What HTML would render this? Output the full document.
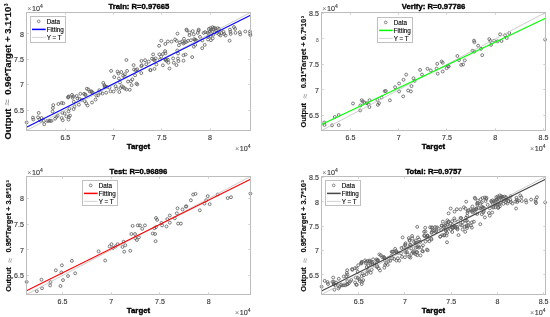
<!DOCTYPE html><html><head><meta charset="utf-8"><style>html,body{margin:0;padding:0;background:#fff;width:550px;height:317px;overflow:hidden}svg{display:block}text{font-family:"Liberation Sans",Arial,sans-serif}</style></head><body>
<div id="w"><svg width="550" height="317" viewBox="0 0 550 317">
<g>
<rect width="550" height="317" fill="#fff"/>
<g fill="none" stroke="#5a5a5a" stroke-width="0.8"><circle cx="26.6" cy="122.4" r="1.45"/><circle cx="38.7" cy="112.9" r="1.45"/><circle cx="32.9" cy="117.6" r="1.45"/><circle cx="33.3" cy="119.5" r="1.45"/><circle cx="38.0" cy="117.3" r="1.45"/><circle cx="39.5" cy="119.5" r="1.45"/><circle cx="40.9" cy="120.9" r="1.45"/><circle cx="41.6" cy="118.0" r="1.45"/><circle cx="43.8" cy="120.9" r="1.45"/><circle cx="44.2" cy="124.2" r="1.45"/><circle cx="47.1" cy="120.9" r="1.45"/><circle cx="48.5" cy="120.9" r="1.45"/><circle cx="50.0" cy="120.9" r="1.45"/><circle cx="51.5" cy="120.9" r="1.45"/><circle cx="52.5" cy="111.5" r="1.45"/><circle cx="55.1" cy="118.7" r="1.45"/><circle cx="56.5" cy="116.9" r="1.45"/><circle cx="57.6" cy="115.5" r="1.45"/><circle cx="61.6" cy="118.0" r="1.45"/><circle cx="62.7" cy="120.2" r="1.45"/><circle cx="62.4" cy="112.9" r="1.45"/><circle cx="64.5" cy="113.3" r="1.45"/><circle cx="53.3" cy="105.1" r="1.45"/><circle cx="52.9" cy="108.0" r="1.45"/><circle cx="58.4" cy="104.0" r="1.45"/><circle cx="66.4" cy="116.4" r="1.45"/><circle cx="68.9" cy="117.1" r="1.45"/><circle cx="70.0" cy="115.6" r="1.45"/><circle cx="68.5" cy="119.6" r="1.45"/><circle cx="68.5" cy="111.3" r="1.45"/><circle cx="69.3" cy="108.7" r="1.45"/><circle cx="73.6" cy="109.1" r="1.45"/><circle cx="111.1" cy="70.9" r="1.45"/><circle cx="117.6" cy="71.6" r="1.45"/><circle cx="118.4" cy="73.5" r="1.45"/><circle cx="121.3" cy="72.0" r="1.45"/><circle cx="123.1" cy="75.6" r="1.45"/><circle cx="124.9" cy="74.2" r="1.45"/><circle cx="127.1" cy="70.9" r="1.45"/><circle cx="133.6" cy="65.1" r="1.45"/><circle cx="134.0" cy="69.5" r="1.45"/><circle cx="135.8" cy="70.2" r="1.45"/><circle cx="135.1" cy="75.3" r="1.45"/><circle cx="136.5" cy="83.6" r="1.45"/><circle cx="137.3" cy="84.4" r="1.45"/><circle cx="141.3" cy="73.1" r="1.45"/><circle cx="150.4" cy="70.2" r="1.45"/><circle cx="159.1" cy="45.8" r="1.45"/><circle cx="165.3" cy="44.0" r="1.45"/><circle cx="176.5" cy="65.1" r="1.45"/><circle cx="178.0" cy="58.5" r="1.45"/><circle cx="178.4" cy="61.1" r="1.45"/><circle cx="178.0" cy="53.5" r="1.45"/><circle cx="177.3" cy="50.5" r="1.45"/><circle cx="183.5" cy="60.7" r="1.45"/><circle cx="183.5" cy="55.3" r="1.45"/><circle cx="185.6" cy="54.5" r="1.45"/><circle cx="192.2" cy="57.1" r="1.45"/><circle cx="171.5" cy="41.6" r="1.45"/><circle cx="175.1" cy="39.5" r="1.45"/><circle cx="186.4" cy="29.6" r="1.45"/><circle cx="198.7" cy="29.6" r="1.45"/><circle cx="229.6" cy="40.7" r="1.45"/><circle cx="250.0" cy="31.5" r="1.45"/><circle cx="250.0" cy="33.6" r="1.45"/><circle cx="250.4" cy="35.1" r="1.45"/><circle cx="126.4" cy="60.0" r="1.45"/><circle cx="161.3" cy="40.7" r="1.45"/><circle cx="167.8" cy="41.5" r="1.45"/><circle cx="103.3" cy="82.9" r="1.45"/><circle cx="104.4" cy="85.1" r="1.45"/><circle cx="105.1" cy="86.9" r="1.45"/><circle cx="106.9" cy="86.9" r="1.45"/><circle cx="109.5" cy="87.6" r="1.45"/><circle cx="110.5" cy="91.3" r="1.45"/><circle cx="113.5" cy="91.6" r="1.45"/><circle cx="115.6" cy="86.2" r="1.45"/><circle cx="116.4" cy="88.7" r="1.45"/><circle cx="114.2" cy="77.1" r="1.45"/><circle cx="118.9" cy="78.5" r="1.45"/><circle cx="120.0" cy="82.5" r="1.45"/><circle cx="120.4" cy="88.0" r="1.45"/><circle cx="119.3" cy="92.0" r="1.45"/><circle cx="121.8" cy="86.2" r="1.45"/><circle cx="123.3" cy="87.3" r="1.45"/><circle cx="124.7" cy="88.4" r="1.45"/><circle cx="126.5" cy="89.5" r="1.45"/><circle cx="129.8" cy="89.8" r="1.45"/><circle cx="128.0" cy="81.5" r="1.45"/><circle cx="130.9" cy="81.1" r="1.45"/><circle cx="131.6" cy="85.1" r="1.45"/><circle cx="132.4" cy="79.3" r="1.45"/><circle cx="124.7" cy="76.7" r="1.45"/><circle cx="100.4" cy="92.7" r="1.45"/><circle cx="102.5" cy="93.5" r="1.45"/><circle cx="106.2" cy="92.7" r="1.45"/><circle cx="104.6" cy="86.2" r="1.45"/><circle cx="141.5" cy="60.9" r="1.45"/><circle cx="141.8" cy="65.3" r="1.45"/><circle cx="145.1" cy="60.2" r="1.45"/><circle cx="146.2" cy="64.2" r="1.45"/><circle cx="148.7" cy="61.6" r="1.45"/><circle cx="152.0" cy="58.7" r="1.45"/><circle cx="153.1" cy="54.4" r="1.45"/><circle cx="153.8" cy="59.5" r="1.45"/><circle cx="154.4" cy="60.3" r="1.45"/><circle cx="155.6" cy="58.4" r="1.45"/><circle cx="156.4" cy="64.5" r="1.45"/><circle cx="159.3" cy="54.4" r="1.45"/><circle cx="161.1" cy="56.5" r="1.45"/><circle cx="162.9" cy="54.0" r="1.45"/><circle cx="165.1" cy="51.1" r="1.45"/><circle cx="165.5" cy="53.3" r="1.45"/><circle cx="165.1" cy="59.5" r="1.45"/><circle cx="166.5" cy="60.9" r="1.45"/><circle cx="165.8" cy="60.0" r="1.45"/><circle cx="168.0" cy="59.8" r="1.45"/><circle cx="168.4" cy="62.7" r="1.45"/><circle cx="162.9" cy="65.3" r="1.45"/><circle cx="173.1" cy="58.4" r="1.45"/><circle cx="173.8" cy="62.7" r="1.45"/><circle cx="154.5" cy="68.9" r="1.45"/><circle cx="169.5" cy="68.5" r="1.45"/><circle cx="137.1" cy="69.3" r="1.45"/><circle cx="160.0" cy="59.5" r="1.45"/><circle cx="141.3" cy="66.2" r="1.45"/><circle cx="150.4" cy="70.0" r="1.45"/><circle cx="177.5" cy="33.6" r="1.45"/><circle cx="176.7" cy="40.9" r="1.45"/><circle cx="178.9" cy="45.3" r="1.45"/><circle cx="182.2" cy="41.6" r="1.45"/><circle cx="183.3" cy="43.5" r="1.45"/><circle cx="184.4" cy="42.7" r="1.45"/><circle cx="184.0" cy="38.7" r="1.45"/><circle cx="186.9" cy="30.4" r="1.45"/><circle cx="189.5" cy="32.5" r="1.45"/><circle cx="189.5" cy="35.1" r="1.45"/><circle cx="188.0" cy="40.9" r="1.45"/><circle cx="190.9" cy="40.2" r="1.45"/><circle cx="193.8" cy="34.4" r="1.45"/><circle cx="194.2" cy="39.1" r="1.45"/><circle cx="195.6" cy="39.8" r="1.45"/><circle cx="196.7" cy="40.9" r="1.45"/><circle cx="195.0" cy="40.2" r="1.45"/><circle cx="195.3" cy="44.9" r="1.45"/><circle cx="197.8" cy="32.9" r="1.45"/><circle cx="198.5" cy="30.7" r="1.45"/><circle cx="200.0" cy="36.9" r="1.45"/><circle cx="202.2" cy="40.5" r="1.45"/><circle cx="203.6" cy="32.9" r="1.45"/><circle cx="205.1" cy="32.2" r="1.45"/><circle cx="204.7" cy="44.9" r="1.45"/><circle cx="202.2" cy="48.2" r="1.45"/><circle cx="208.0" cy="39.5" r="1.45"/><circle cx="210.9" cy="40.2" r="1.45"/><circle cx="212.7" cy="38.4" r="1.45"/><circle cx="193.8" cy="46.7" r="1.45"/><circle cx="192.7" cy="31.1" r="1.45"/><circle cx="180.0" cy="42.5" r="1.45"/><circle cx="186.0" cy="42.0" r="1.45"/><circle cx="208.9" cy="28.9" r="1.45"/><circle cx="210.4" cy="28.2" r="1.45"/><circle cx="212.5" cy="27.1" r="1.45"/><circle cx="214.0" cy="27.8" r="1.45"/><circle cx="215.5" cy="28.5" r="1.45"/><circle cx="217.6" cy="28.2" r="1.45"/><circle cx="219.1" cy="28.9" r="1.45"/><circle cx="207.5" cy="32.5" r="1.45"/><circle cx="208.3" cy="33.2" r="1.45"/><circle cx="210.0" cy="31.8" r="1.45"/><circle cx="212.2" cy="31.5" r="1.45"/><circle cx="214.7" cy="32.2" r="1.45"/><circle cx="216.9" cy="32.9" r="1.45"/><circle cx="219.1" cy="34.4" r="1.45"/><circle cx="223.5" cy="31.8" r="1.45"/><circle cx="224.2" cy="34.0" r="1.45"/><circle cx="225.6" cy="35.5" r="1.45"/><circle cx="230.0" cy="29.6" r="1.45"/><circle cx="230.4" cy="31.8" r="1.45"/><circle cx="230.7" cy="34.0" r="1.45"/><circle cx="234.0" cy="27.1" r="1.45"/><circle cx="235.1" cy="28.9" r="1.45"/><circle cx="235.5" cy="32.9" r="1.45"/><circle cx="239.8" cy="32.2" r="1.45"/><circle cx="240.2" cy="34.4" r="1.45"/><circle cx="245.3" cy="31.5" r="1.45"/><circle cx="213.3" cy="34.7" r="1.45"/><circle cx="210.4" cy="36.2" r="1.45"/><circle cx="208.2" cy="36.5" r="1.45"/><circle cx="220.5" cy="35.5" r="1.45"/><circle cx="211.0" cy="30.0" r="1.45"/><circle cx="216.0" cy="30.5" r="1.45"/><circle cx="218.5" cy="31.0" r="1.45"/><circle cx="221.5" cy="33.0" r="1.45"/><circle cx="213.5" cy="29.5" r="1.45"/><circle cx="61.5" cy="102.9" r="1.45"/><circle cx="63.3" cy="103.3" r="1.45"/><circle cx="68.0" cy="97.5" r="1.45"/><circle cx="68.4" cy="97.0" r="1.45"/><circle cx="68.7" cy="96.4" r="1.45"/><circle cx="72.0" cy="94.9" r="1.45"/><circle cx="73.1" cy="96.4" r="1.45"/><circle cx="76.7" cy="96.0" r="1.45"/><circle cx="72.7" cy="97.8" r="1.45"/><circle cx="73.8" cy="101.8" r="1.45"/><circle cx="77.5" cy="98.5" r="1.45"/><circle cx="80.4" cy="93.8" r="1.45"/><circle cx="79.6" cy="98.9" r="1.45"/><circle cx="81.8" cy="100.0" r="1.45"/><circle cx="84.0" cy="93.8" r="1.45"/><circle cx="85.1" cy="94.5" r="1.45"/><circle cx="85.6" cy="95.0" r="1.45"/><circle cx="84.7" cy="101.1" r="1.45"/><circle cx="86.2" cy="103.3" r="1.45"/><circle cx="87.6" cy="105.5" r="1.45"/><circle cx="86.9" cy="88.7" r="1.45"/><circle cx="89.8" cy="91.6" r="1.45"/><circle cx="91.3" cy="91.3" r="1.45"/><circle cx="91.8" cy="91.9" r="1.45"/><circle cx="92.7" cy="92.7" r="1.45"/><circle cx="92.0" cy="102.5" r="1.45"/><circle cx="95.6" cy="99.6" r="1.45"/><circle cx="96.4" cy="95.6" r="1.45"/><circle cx="98.2" cy="95.3" r="1.45"/><circle cx="99.3" cy="90.2" r="1.45"/><circle cx="88.4" cy="89.5" r="1.45"/><circle cx="78.9" cy="104.7" r="1.45"/><circle cx="74.5" cy="106.5" r="1.45"/></g>
<line x1="26.5" y1="130.5" x2="250.5" y2="12.5" stroke="#c0c0c0" stroke-width="0.8"/>
<line x1="26.5" y1="127.2" x2="250.5" y2="15.2" stroke="#0000ff" stroke-width="1.1"/>
<rect x="26.5" y="12.5" width="224.0" height="118.0" fill="none" stroke="#bdbdbd" stroke-width="1"/>
<path d="M65.5 130.5v-2.2M65.5 12.5v2.2M113.5 130.5v-2.2M113.5 12.5v2.2M161.5 130.5v-2.2M161.5 12.5v2.2M210.5 130.5v-2.2M210.5 12.5v2.2M26.5 110.5h2.2M250.5 110.5h-2.2M26.5 84.5h2.2M250.5 84.5h-2.2M26.5 59.5h2.2M250.5 59.5h-2.2M26.5 33.5h2.2M250.5 33.5h-2.2" stroke="#d0d0d0" stroke-width="1" fill="none"/>
<g font-size="7.10" fill="#333" stroke="#333" stroke-width="0.12"><text transform="translate(65.35 140.00) scale(1 1.100)" text-anchor="middle">6.5</text><text transform="translate(113.58 140.00) scale(1 1.100)" text-anchor="middle">7</text><text transform="translate(161.82 140.00) scale(1 1.100)" text-anchor="middle">7.5</text><text transform="translate(210.05 140.00) scale(1 1.100)" text-anchor="middle">8</text><text transform="translate(23.90 112.74) scale(1 1.100)" text-anchor="end">6.5</text><text transform="translate(23.90 87.33) scale(1 1.100)" text-anchor="end">7</text><text transform="translate(23.90 61.92) scale(1 1.100)" text-anchor="end">7.5</text><text transform="translate(23.90 36.51) scale(1 1.100)" text-anchor="end">8</text></g>
<text x="27.3" y="10.7" font-size="7.2" fill="#333" stroke="#333" stroke-width="0.12"><tspan fill="#777" stroke="none">&#215;</tspan><tspan dx="0.5">10</tspan><tspan font-size="5" dy="-3.0">4</tspan></text>
<text x="250.5" y="151.1" font-size="7.2" fill="#333" stroke="#333" stroke-width="0.12" text-anchor="end"><tspan fill="#777" stroke="none">&#215;</tspan><tspan dx="0.5">10</tspan><tspan font-size="5" dy="-3.2">4</tspan></text>
<text transform="translate(138.9 8.5) scale(1 1.04)" font-size="7.7" font-weight="bold" fill="#000" stroke="#000" stroke-width="0.35" text-anchor="middle">Train: R=0.97665</text>
<text x="138.5" y="149.3" font-size="7.85" font-weight="bold" fill="#000" stroke="#000" stroke-width="0.35" text-anchor="middle">Target</text>
<g font-weight="bold" fill="#111" font-size="9.50" stroke="#000" stroke-width="0.15">
<text transform="translate(11.1 139.6) rotate(-90)">Output</text>
<text transform="translate(10.6 102.3) rotate(-90)" text-anchor="middle" font-weight="normal" stroke="none" fill="#8a8a8a" font-size="11.40">&#8776;</text>
<text transform="translate(11.1 94.8) rotate(-90)">0.96<tspan font-size="8.55">*</tspan><tspan>Target</tspan> + 3.1<tspan font-size="8.55">*</tspan><tspan>10</tspan><tspan font-size="4.46" dy="-3.42" dx="0.7">3</tspan></text>
</g>
<rect x="30.5" y="16.5" width="35.0" height="26.0" fill="#fff" stroke="#c0c0c0" stroke-width="1"/>
<circle cx="38.7" cy="21.4" r="1.35" fill="none" stroke="#555" stroke-width="0.7"/>
<line x1="32.0" y1="29.4" x2="45.7" y2="29.4" stroke="#0000ff" stroke-width="1.5"/>
<line x1="32.0" y1="37.4" x2="45.7" y2="37.4" stroke="#c8c8c8" stroke-width="0.8"/>
<g font-size="6.3" fill="#000" stroke="#000" stroke-width="0.12">
<text x="46.7" y="23.7">Data</text>
<text x="46.7" y="31.7">Fitting</text>
<text x="46.7" y="39.7">Y = T</text>
</g>
<g fill="none" stroke="#5a5a5a" stroke-width="0.8"><circle cx="324.3" cy="122.5" r="1.45"/><circle cx="324.5" cy="125.0" r="1.45"/><circle cx="332.0" cy="125.3" r="1.45"/><circle cx="338.7" cy="125.1" r="1.45"/><circle cx="334.8" cy="117.0" r="1.45"/><circle cx="338.7" cy="115.0" r="1.45"/><circle cx="353.0" cy="103.5" r="1.45"/><circle cx="360.2" cy="110.4" r="1.45"/><circle cx="360.4" cy="105.4" r="1.45"/><circle cx="361.7" cy="100.2" r="1.45"/><circle cx="362.8" cy="101.5" r="1.45"/><circle cx="364.3" cy="102.4" r="1.45"/><circle cx="366.9" cy="103.2" r="1.45"/><circle cx="369.4" cy="107.0" r="1.45"/><circle cx="369.6" cy="100.2" r="1.45"/><circle cx="368.7" cy="104.3" r="1.45"/><circle cx="377.9" cy="104.8" r="1.45"/><circle cx="379.0" cy="103.2" r="1.45"/><circle cx="377.4" cy="99.9" r="1.45"/><circle cx="381.6" cy="97.5" r="1.45"/><circle cx="384.7" cy="91.2" r="1.45"/><circle cx="385.8" cy="91.0" r="1.45"/><circle cx="389.9" cy="100.3" r="1.45"/><circle cx="395.1" cy="87.2" r="1.45"/><circle cx="399.1" cy="91.4" r="1.45"/><circle cx="399.1" cy="83.5" r="1.45"/><circle cx="403.2" cy="96.4" r="1.45"/><circle cx="403.5" cy="79.8" r="1.45"/><circle cx="406.2" cy="74.6" r="1.45"/><circle cx="408.1" cy="90.5" r="1.45"/><circle cx="410.9" cy="91.4" r="1.45"/><circle cx="411.5" cy="86.1" r="1.45"/><circle cx="413.5" cy="78.2" r="1.45"/><circle cx="414.6" cy="80.9" r="1.45"/><circle cx="420.1" cy="69.9" r="1.45"/><circle cx="422.0" cy="74.6" r="1.45"/><circle cx="427.5" cy="68.8" r="1.45"/><circle cx="430.8" cy="70.4" r="1.45"/><circle cx="436.6" cy="68.5" r="1.45"/><circle cx="437.2" cy="63.8" r="1.45"/><circle cx="437.7" cy="73.7" r="1.45"/><circle cx="441.6" cy="61.5" r="1.45"/><circle cx="442.7" cy="62.7" r="1.45"/><circle cx="442.7" cy="71.5" r="1.45"/><circle cx="446.6" cy="68.2" r="1.45"/><circle cx="447.9" cy="66.0" r="1.45"/><circle cx="448.8" cy="66.5" r="1.45"/><circle cx="457.4" cy="56.0" r="1.45"/><circle cx="459.0" cy="60.1" r="1.45"/><circle cx="461.2" cy="64.9" r="1.45"/><circle cx="463.1" cy="64.5" r="1.45"/><circle cx="464.8" cy="60.4" r="1.45"/><circle cx="472.5" cy="50.8" r="1.45"/><circle cx="474.2" cy="51.6" r="1.45"/><circle cx="474.0" cy="40.6" r="1.45"/><circle cx="474.4" cy="42.2" r="1.45"/><circle cx="478.1" cy="45.7" r="1.45"/><circle cx="481.0" cy="48.8" r="1.45"/><circle cx="482.2" cy="55.2" r="1.45"/><circle cx="489.3" cy="39.1" r="1.45"/><circle cx="490.4" cy="41.0" r="1.45"/><circle cx="491.0" cy="44.9" r="1.45"/><circle cx="494.0" cy="40.7" r="1.45"/><circle cx="497.6" cy="41.3" r="1.45"/><circle cx="501.5" cy="41.0" r="1.45"/><circle cx="500.1" cy="34.3" r="1.45"/><circle cx="505.0" cy="35.2" r="1.45"/><circle cx="506.8" cy="38.0" r="1.45"/><circle cx="509.2" cy="33.0" r="1.45"/><circle cx="545.1" cy="39.6" r="1.45"/></g>
<line x1="321.5" y1="130.5" x2="545.5" y2="12.5" stroke="#c0c0c0" stroke-width="0.8"/>
<line x1="321.5" y1="124.6" x2="545.5" y2="18.3" stroke="#00ff00" stroke-width="1.1"/>
<rect x="321.5" y="12.5" width="224.0" height="118.0" fill="none" stroke="#bdbdbd" stroke-width="1"/>
<path d="M350.5 130.5v-2.2M350.5 12.5v2.2M398.5 130.5v-2.2M398.5 12.5v2.2M446.5 130.5v-2.2M446.5 12.5v2.2M495.5 130.5v-2.2M495.5 12.5v2.2M543.5 130.5v-2.2M543.5 12.5v2.2M321.5 115.5h2.2M545.5 115.5h-2.2M321.5 89.5h2.2M545.5 89.5h-2.2M321.5 64.5h2.2M545.5 64.5h-2.2M321.5 38.5h2.2M545.5 38.5h-2.2M321.5 13.5h2.2M545.5 13.5h-2.2" stroke="#d0d0d0" stroke-width="1" fill="none"/>
<g font-size="7.10" fill="#333" stroke="#333" stroke-width="0.12"><text transform="translate(350.40 140.00) scale(1 1.100)" text-anchor="middle">6.5</text><text transform="translate(398.67 140.00) scale(1 1.100)" text-anchor="middle">7</text><text transform="translate(446.95 140.00) scale(1 1.100)" text-anchor="middle">7.5</text><text transform="translate(495.23 140.00) scale(1 1.100)" text-anchor="middle">8</text><text transform="translate(543.50 140.00) scale(1 1.100)" text-anchor="middle">8.5</text><text transform="translate(318.90 117.98) scale(1 1.100)" text-anchor="end">6.5</text><text transform="translate(318.90 92.55) scale(1 1.100)" text-anchor="end">7</text><text transform="translate(318.90 67.11) scale(1 1.100)" text-anchor="end">7.5</text><text transform="translate(318.90 41.68) scale(1 1.100)" text-anchor="end" fill="#b0b0b0" font-size="5.6">8</text><text transform="translate(318.90 16.25) scale(1 1.100)" text-anchor="end">8.5</text></g>
<text x="322.3" y="10.7" font-size="7.2" fill="#333" stroke="#333" stroke-width="0.12"><tspan fill="#777" stroke="none">&#215;</tspan><tspan dx="0.5">10</tspan><tspan font-size="5" dy="-3.0">4</tspan></text>
<text x="545.5" y="151.1" font-size="7.2" fill="#333" stroke="#333" stroke-width="0.12" text-anchor="end"><tspan fill="#777" stroke="none">&#215;</tspan><tspan dx="0.5">10</tspan><tspan font-size="5" dy="-3.2">4</tspan></text>
<text transform="translate(433.5 8.5) scale(1 1.04)" font-size="7.7" font-weight="bold" fill="#000" stroke="#000" stroke-width="0.35" text-anchor="middle">Verify: R=0.97786</text>
<text x="433.5" y="149.3" font-size="7.85" font-weight="bold" fill="#000" stroke="#000" stroke-width="0.35" text-anchor="middle">Target</text>
<g font-weight="bold" fill="#111" font-size="7.50" stroke="#000" stroke-width="0.15">
<text transform="translate(306.4 127.5) rotate(-90)">Output</text>
<text transform="translate(307.5 96.0) rotate(-90)" text-anchor="middle" font-weight="normal" stroke="none" fill="#8a8a8a" font-size="9.00">&#8776;</text>
<text transform="translate(306.4 88.3) rotate(-90)">0.91<tspan font-size="6.75">*</tspan><tspan>Target</tspan> + 6.7<tspan font-size="6.75">*</tspan><tspan>10</tspan><tspan font-size="3.52" dy="-2.70" dx="0.7">3</tspan></text>
</g>
<rect x="377.5" y="17.5" width="35.0" height="25.0" fill="#fff" stroke="#c0c0c0" stroke-width="1"/>
<circle cx="385.7" cy="22.4" r="1.35" fill="none" stroke="#555" stroke-width="0.7"/>
<line x1="379.0" y1="30.4" x2="392.7" y2="30.4" stroke="#00ff00" stroke-width="1.5"/>
<line x1="379.0" y1="38.4" x2="392.7" y2="38.4" stroke="#c8c8c8" stroke-width="0.8"/>
<g font-size="6.3" fill="#000" stroke="#000" stroke-width="0.12">
<text x="393.7" y="24.7">Data</text>
<text x="393.7" y="32.7">Fitting</text>
<text x="393.7" y="40.7">Y = T</text>
</g>
<g fill="none" stroke="#5a5a5a" stroke-width="0.8"><circle cx="26.6" cy="281.9" r="1.45"/><circle cx="36.8" cy="291.2" r="1.45"/><circle cx="42.0" cy="288.2" r="1.45"/><circle cx="41.5" cy="279.7" r="1.45"/><circle cx="50.1" cy="285.4" r="1.45"/><circle cx="50.5" cy="282.1" r="1.45"/><circle cx="55.8" cy="270.3" r="1.45"/><circle cx="60.5" cy="286.0" r="1.45"/><circle cx="61.4" cy="272.4" r="1.45"/><circle cx="61.9" cy="265.3" r="1.45"/><circle cx="63.0" cy="280.1" r="1.45"/><circle cx="68.0" cy="276.0" r="1.45"/><circle cx="71.9" cy="260.9" r="1.45"/><circle cx="75.2" cy="273.3" r="1.45"/><circle cx="98.6" cy="251.3" r="1.45"/><circle cx="105.2" cy="260.5" r="1.45"/><circle cx="109.6" cy="246.4" r="1.45"/><circle cx="111.5" cy="244.2" r="1.45"/><circle cx="113.1" cy="248.0" r="1.45"/><circle cx="115.6" cy="246.4" r="1.45"/><circle cx="117.6" cy="244.2" r="1.45"/><circle cx="122.5" cy="246.9" r="1.45"/><circle cx="123.6" cy="241.7" r="1.45"/><circle cx="125.3" cy="245.3" r="1.45"/><circle cx="124.2" cy="251.7" r="1.45"/><circle cx="130.3" cy="250.8" r="1.45"/><circle cx="131.4" cy="234.0" r="1.45"/><circle cx="135.0" cy="234.0" r="1.45"/><circle cx="135.2" cy="238.1" r="1.45"/><circle cx="136.9" cy="240.0" r="1.45"/><circle cx="138.9" cy="237.3" r="1.45"/><circle cx="137.8" cy="225.4" r="1.45"/><circle cx="140.0" cy="225.4" r="1.45"/><circle cx="142.2" cy="228.8" r="1.45"/><circle cx="144.9" cy="225.4" r="1.45"/><circle cx="152.7" cy="233.5" r="1.45"/><circle cx="155.1" cy="234.0" r="1.45"/><circle cx="154.3" cy="228.2" r="1.45"/><circle cx="156.0" cy="227.1" r="1.45"/><circle cx="156.0" cy="218.0" r="1.45"/><circle cx="157.1" cy="219.9" r="1.45"/><circle cx="161.5" cy="222.9" r="1.45"/><circle cx="162.1" cy="225.4" r="1.45"/><circle cx="166.5" cy="226.5" r="1.45"/><circle cx="167.3" cy="219.1" r="1.45"/><circle cx="169.8" cy="222.7" r="1.45"/><circle cx="169.8" cy="215.5" r="1.45"/><circle cx="174.8" cy="218.3" r="1.45"/><circle cx="176.8" cy="213.3" r="1.45"/><circle cx="177.5" cy="208.3" r="1.45"/><circle cx="178.1" cy="223.6" r="1.45"/><circle cx="180.9" cy="223.6" r="1.45"/><circle cx="182.5" cy="209.4" r="1.45"/><circle cx="186.4" cy="206.3" r="1.45"/><circle cx="185.8" cy="206.6" r="1.45"/><circle cx="190.9" cy="200.3" r="1.45"/><circle cx="193.1" cy="194.5" r="1.45"/><circle cx="195.5" cy="193.9" r="1.45"/><circle cx="199.8" cy="210.3" r="1.45"/><circle cx="204.4" cy="203.6" r="1.45"/><circle cx="206.1" cy="200.3" r="1.45"/><circle cx="207.7" cy="196.1" r="1.45"/><circle cx="209.7" cy="204.2" r="1.45"/><circle cx="217.7" cy="194.5" r="1.45"/><circle cx="227.7" cy="198.1" r="1.45"/><circle cx="231.0" cy="197.2" r="1.45"/><circle cx="250.4" cy="193.6" r="1.45"/><circle cx="132.6" cy="225.9" r="1.45"/><circle cx="155.6" cy="241.2" r="1.45"/></g>
<line x1="26.5" y1="294.5" x2="250.5" y2="176.5" stroke="#c0c0c0" stroke-width="0.8"/>
<line x1="26.5" y1="290.8" x2="250.5" y2="179.3" stroke="#ff0000" stroke-width="1.1"/>
<rect x="26.5" y="176.5" width="224.0" height="118.0" fill="none" stroke="#bdbdbd" stroke-width="1"/>
<path d="M62.5 294.5v-2.2M62.5 176.5v2.2M111.5 294.5v-2.2M111.5 176.5v2.2M159.5 294.5v-2.2M159.5 176.5v2.2M208.5 294.5v-2.2M208.5 176.5v2.2M26.5 275.5h2.2M250.5 275.5h-2.2M26.5 249.5h2.2M250.5 249.5h-2.2M26.5 224.5h2.2M250.5 224.5h-2.2M26.5 198.5h2.2M250.5 198.5h-2.2" stroke="#d0d0d0" stroke-width="1" fill="none"/>
<g font-size="7.10" fill="#333" stroke="#333" stroke-width="0.12"><text transform="translate(62.49 304.00) scale(1 1.100)" text-anchor="middle">6.5</text><text transform="translate(111.23 304.00) scale(1 1.100)" text-anchor="middle">7</text><text transform="translate(159.96 304.00) scale(1 1.100)" text-anchor="middle">7.5</text><text transform="translate(208.70 304.00) scale(1 1.100)" text-anchor="middle">8</text><text transform="translate(23.90 278.24) scale(1 1.100)" text-anchor="end">6.5</text><text transform="translate(23.90 252.57) scale(1 1.100)" text-anchor="end">7</text><text transform="translate(23.90 226.89) scale(1 1.100)" text-anchor="end">7.5</text><text transform="translate(23.90 201.22) scale(1 1.100)" text-anchor="end">8</text></g>
<text x="27.3" y="174.7" font-size="7.2" fill="#333" stroke="#333" stroke-width="0.12"><tspan fill="#777" stroke="none">&#215;</tspan><tspan dx="0.5">10</tspan><tspan font-size="5" dy="-3.0">4</tspan></text>
<text x="250.5" y="315.1" font-size="7.2" fill="#333" stroke="#333" stroke-width="0.12" text-anchor="end"><tspan fill="#777" stroke="none">&#215;</tspan><tspan dx="0.5">10</tspan><tspan font-size="5" dy="-3.2">4</tspan></text>
<text transform="translate(138.5 174.4) scale(1 1.04)" font-size="7.7" font-weight="bold" fill="#000" stroke="#000" stroke-width="0.35" text-anchor="middle">Test: R=0.96896</text>
<text x="138.5" y="313.3" font-size="7.85" font-weight="bold" fill="#000" stroke="#000" stroke-width="0.35" text-anchor="middle">Target</text>
<g font-weight="bold" fill="#111" font-size="7.50" stroke="#000" stroke-width="0.15">
<text transform="translate(11.4 291.8) rotate(-90)">Output</text>
<text transform="translate(12.5 260.3) rotate(-90)" text-anchor="middle" font-weight="normal" stroke="none" fill="#8a8a8a" font-size="9.00">&#8776;</text>
<text transform="translate(11.4 252.6) rotate(-90)">0.95<tspan font-size="6.75">*</tspan><tspan>Target</tspan> + 3.8<tspan font-size="6.75">*</tspan><tspan>10</tspan><tspan font-size="3.52" dy="-2.70" dx="0.7">3</tspan></text>
</g>
<rect x="82.5" y="180.5" width="35.0" height="25.0" fill="#fff" stroke="#c0c0c0" stroke-width="1"/>
<circle cx="90.7" cy="185.4" r="1.35" fill="none" stroke="#555" stroke-width="0.7"/>
<line x1="84.0" y1="193.4" x2="97.7" y2="193.4" stroke="#ff0000" stroke-width="1.5"/>
<line x1="84.0" y1="201.4" x2="97.7" y2="201.4" stroke="#c8c8c8" stroke-width="0.8"/>
<g font-size="6.3" fill="#000" stroke="#000" stroke-width="0.12">
<text x="98.7" y="187.7">Data</text>
<text x="98.7" y="195.7">Fitting</text>
<text x="98.7" y="203.7">Y = T</text>
</g>
<g fill="none" stroke="#5a5a5a" stroke-width="0.8"><circle cx="321.6" cy="286.7" r="1.45"/><circle cx="333.2" cy="277.6" r="1.45"/><circle cx="327.6" cy="282.1" r="1.45"/><circle cx="328.0" cy="284.0" r="1.45"/><circle cx="332.5" cy="281.9" r="1.45"/><circle cx="334.0" cy="284.0" r="1.45"/><circle cx="335.3" cy="285.3" r="1.45"/><circle cx="336.0" cy="282.5" r="1.45"/><circle cx="338.1" cy="285.3" r="1.45"/><circle cx="338.5" cy="288.5" r="1.45"/><circle cx="341.2" cy="285.3" r="1.45"/><circle cx="342.6" cy="285.3" r="1.45"/><circle cx="344.0" cy="285.3" r="1.45"/><circle cx="345.5" cy="285.3" r="1.45"/><circle cx="346.4" cy="276.3" r="1.45"/><circle cx="348.9" cy="283.2" r="1.45"/><circle cx="350.2" cy="281.5" r="1.45"/><circle cx="351.3" cy="280.1" r="1.45"/><circle cx="355.1" cy="282.5" r="1.45"/><circle cx="356.2" cy="284.6" r="1.45"/><circle cx="355.9" cy="277.6" r="1.45"/><circle cx="357.9" cy="278.0" r="1.45"/><circle cx="347.2" cy="270.2" r="1.45"/><circle cx="346.8" cy="272.9" r="1.45"/><circle cx="352.1" cy="269.1" r="1.45"/><circle cx="359.7" cy="281.0" r="1.45"/><circle cx="362.1" cy="281.7" r="1.45"/><circle cx="363.2" cy="280.2" r="1.45"/><circle cx="361.7" cy="284.1" r="1.45"/><circle cx="361.7" cy="276.1" r="1.45"/><circle cx="362.5" cy="273.6" r="1.45"/><circle cx="366.6" cy="274.0" r="1.45"/><circle cx="402.6" cy="237.4" r="1.45"/><circle cx="408.8" cy="238.1" r="1.45"/><circle cx="409.6" cy="239.9" r="1.45"/><circle cx="412.3" cy="238.4" r="1.45"/><circle cx="414.1" cy="241.9" r="1.45"/><circle cx="415.8" cy="240.6" r="1.45"/><circle cx="417.9" cy="237.4" r="1.45"/><circle cx="424.1" cy="231.8" r="1.45"/><circle cx="424.5" cy="236.1" r="1.45"/><circle cx="426.2" cy="236.7" r="1.45"/><circle cx="425.6" cy="241.6" r="1.45"/><circle cx="426.9" cy="249.6" r="1.45"/><circle cx="427.7" cy="250.3" r="1.45"/><circle cx="431.5" cy="239.5" r="1.45"/><circle cx="440.2" cy="236.7" r="1.45"/><circle cx="448.6" cy="213.3" r="1.45"/><circle cx="454.5" cy="211.6" r="1.45"/><circle cx="465.2" cy="231.8" r="1.45"/><circle cx="466.7" cy="225.5" r="1.45"/><circle cx="467.0" cy="228.0" r="1.45"/><circle cx="466.7" cy="220.7" r="1.45"/><circle cx="466.0" cy="217.8" r="1.45"/><circle cx="471.9" cy="227.6" r="1.45"/><circle cx="471.9" cy="222.4" r="1.45"/><circle cx="473.9" cy="221.7" r="1.45"/><circle cx="480.3" cy="224.2" r="1.45"/><circle cx="460.4" cy="209.3" r="1.45"/><circle cx="463.9" cy="207.3" r="1.45"/><circle cx="474.7" cy="197.8" r="1.45"/><circle cx="486.5" cy="197.8" r="1.45"/><circle cx="516.1" cy="208.5" r="1.45"/><circle cx="535.6" cy="199.6" r="1.45"/><circle cx="535.6" cy="201.7" r="1.45"/><circle cx="536.0" cy="203.1" r="1.45"/><circle cx="417.2" cy="226.9" r="1.45"/><circle cx="450.7" cy="208.5" r="1.45"/><circle cx="456.9" cy="209.2" r="1.45"/><circle cx="395.1" cy="248.9" r="1.45"/><circle cx="396.1" cy="251.0" r="1.45"/><circle cx="396.8" cy="252.7" r="1.45"/><circle cx="398.5" cy="252.7" r="1.45"/><circle cx="401.0" cy="253.4" r="1.45"/><circle cx="402.0" cy="256.9" r="1.45"/><circle cx="404.9" cy="257.2" r="1.45"/><circle cx="406.9" cy="252.1" r="1.45"/><circle cx="407.6" cy="254.4" r="1.45"/><circle cx="405.5" cy="243.3" r="1.45"/><circle cx="410.0" cy="244.7" r="1.45"/><circle cx="411.1" cy="248.5" r="1.45"/><circle cx="411.5" cy="253.8" r="1.45"/><circle cx="410.4" cy="257.6" r="1.45"/><circle cx="412.8" cy="252.1" r="1.45"/><circle cx="414.2" cy="253.1" r="1.45"/><circle cx="415.6" cy="254.2" r="1.45"/><circle cx="417.3" cy="255.2" r="1.45"/><circle cx="420.5" cy="255.5" r="1.45"/><circle cx="418.8" cy="247.6" r="1.45"/><circle cx="421.5" cy="247.2" r="1.45"/><circle cx="422.2" cy="251.0" r="1.45"/><circle cx="423.0" cy="245.4" r="1.45"/><circle cx="415.6" cy="243.0" r="1.45"/><circle cx="392.3" cy="258.3" r="1.45"/><circle cx="394.3" cy="259.0" r="1.45"/><circle cx="397.9" cy="258.3" r="1.45"/><circle cx="396.3" cy="252.1" r="1.45"/><circle cx="431.7" cy="227.8" r="1.45"/><circle cx="432.0" cy="232.0" r="1.45"/><circle cx="435.1" cy="227.1" r="1.45"/><circle cx="436.2" cy="231.0" r="1.45"/><circle cx="438.6" cy="228.5" r="1.45"/><circle cx="441.7" cy="225.7" r="1.45"/><circle cx="442.8" cy="221.6" r="1.45"/><circle cx="443.5" cy="226.5" r="1.45"/><circle cx="444.0" cy="227.2" r="1.45"/><circle cx="445.2" cy="225.4" r="1.45"/><circle cx="446.0" cy="231.3" r="1.45"/><circle cx="448.7" cy="221.6" r="1.45"/><circle cx="450.5" cy="223.6" r="1.45"/><circle cx="452.2" cy="221.2" r="1.45"/><circle cx="454.3" cy="218.4" r="1.45"/><circle cx="454.7" cy="220.5" r="1.45"/><circle cx="454.3" cy="226.5" r="1.45"/><circle cx="455.6" cy="227.8" r="1.45"/><circle cx="455.0" cy="226.9" r="1.45"/><circle cx="457.1" cy="226.8" r="1.45"/><circle cx="457.5" cy="229.5" r="1.45"/><circle cx="452.2" cy="232.0" r="1.45"/><circle cx="462.0" cy="225.4" r="1.45"/><circle cx="462.6" cy="229.5" r="1.45"/><circle cx="444.1" cy="235.5" r="1.45"/><circle cx="458.5" cy="235.1" r="1.45"/><circle cx="427.5" cy="235.9" r="1.45"/><circle cx="449.4" cy="226.5" r="1.45"/><circle cx="431.5" cy="232.9" r="1.45"/><circle cx="440.2" cy="236.5" r="1.45"/><circle cx="466.2" cy="201.7" r="1.45"/><circle cx="465.4" cy="208.6" r="1.45"/><circle cx="467.5" cy="212.9" r="1.45"/><circle cx="470.7" cy="209.3" r="1.45"/><circle cx="471.7" cy="211.1" r="1.45"/><circle cx="472.8" cy="210.4" r="1.45"/><circle cx="472.4" cy="206.5" r="1.45"/><circle cx="475.2" cy="198.6" r="1.45"/><circle cx="477.7" cy="200.6" r="1.45"/><circle cx="477.7" cy="203.1" r="1.45"/><circle cx="476.2" cy="208.6" r="1.45"/><circle cx="479.0" cy="208.0" r="1.45"/><circle cx="481.8" cy="202.4" r="1.45"/><circle cx="482.2" cy="206.9" r="1.45"/><circle cx="483.5" cy="207.6" r="1.45"/><circle cx="484.6" cy="208.6" r="1.45"/><circle cx="482.9" cy="208.0" r="1.45"/><circle cx="483.2" cy="212.5" r="1.45"/><circle cx="485.6" cy="201.0" r="1.45"/><circle cx="486.3" cy="198.9" r="1.45"/><circle cx="487.7" cy="204.8" r="1.45"/><circle cx="489.8" cy="208.3" r="1.45"/><circle cx="491.2" cy="201.0" r="1.45"/><circle cx="492.6" cy="200.3" r="1.45"/><circle cx="492.2" cy="212.5" r="1.45"/><circle cx="489.8" cy="215.6" r="1.45"/><circle cx="495.4" cy="207.3" r="1.45"/><circle cx="498.2" cy="208.0" r="1.45"/><circle cx="499.9" cy="206.3" r="1.45"/><circle cx="481.8" cy="214.2" r="1.45"/><circle cx="480.7" cy="199.3" r="1.45"/><circle cx="468.6" cy="210.2" r="1.45"/><circle cx="474.3" cy="209.7" r="1.45"/><circle cx="496.3" cy="197.2" r="1.45"/><circle cx="497.7" cy="196.5" r="1.45"/><circle cx="499.7" cy="195.4" r="1.45"/><circle cx="501.2" cy="196.1" r="1.45"/><circle cx="502.6" cy="196.8" r="1.45"/><circle cx="504.6" cy="196.5" r="1.45"/><circle cx="506.0" cy="197.2" r="1.45"/><circle cx="494.9" cy="200.6" r="1.45"/><circle cx="495.7" cy="201.3" r="1.45"/><circle cx="497.3" cy="199.9" r="1.45"/><circle cx="499.4" cy="199.6" r="1.45"/><circle cx="501.8" cy="200.3" r="1.45"/><circle cx="503.9" cy="201.0" r="1.45"/><circle cx="506.0" cy="202.4" r="1.45"/><circle cx="510.3" cy="199.9" r="1.45"/><circle cx="510.9" cy="202.0" r="1.45"/><circle cx="512.3" cy="203.5" r="1.45"/><circle cx="516.5" cy="197.8" r="1.45"/><circle cx="516.9" cy="199.9" r="1.45"/><circle cx="517.2" cy="202.0" r="1.45"/><circle cx="520.3" cy="195.4" r="1.45"/><circle cx="521.4" cy="197.2" r="1.45"/><circle cx="521.8" cy="201.0" r="1.45"/><circle cx="525.9" cy="200.3" r="1.45"/><circle cx="526.3" cy="202.4" r="1.45"/><circle cx="531.1" cy="199.6" r="1.45"/><circle cx="500.5" cy="202.7" r="1.45"/><circle cx="497.7" cy="204.1" r="1.45"/><circle cx="495.6" cy="204.4" r="1.45"/><circle cx="507.4" cy="203.5" r="1.45"/><circle cx="498.3" cy="198.2" r="1.45"/><circle cx="503.1" cy="198.7" r="1.45"/><circle cx="505.5" cy="199.2" r="1.45"/><circle cx="508.3" cy="201.1" r="1.45"/><circle cx="500.7" cy="197.7" r="1.45"/><circle cx="355.0" cy="268.1" r="1.45"/><circle cx="356.8" cy="268.4" r="1.45"/><circle cx="361.3" cy="262.9" r="1.45"/><circle cx="361.6" cy="262.4" r="1.45"/><circle cx="361.9" cy="261.8" r="1.45"/><circle cx="365.1" cy="260.4" r="1.45"/><circle cx="366.2" cy="261.8" r="1.45"/><circle cx="369.6" cy="261.4" r="1.45"/><circle cx="365.8" cy="263.2" r="1.45"/><circle cx="366.8" cy="267.0" r="1.45"/><circle cx="370.4" cy="263.8" r="1.45"/><circle cx="373.1" cy="259.3" r="1.45"/><circle cx="372.4" cy="264.2" r="1.45"/><circle cx="374.5" cy="265.3" r="1.45"/><circle cx="376.6" cy="259.3" r="1.45"/><circle cx="377.6" cy="260.0" r="1.45"/><circle cx="378.1" cy="260.5" r="1.45"/><circle cx="377.3" cy="266.3" r="1.45"/><circle cx="378.7" cy="268.4" r="1.45"/><circle cx="380.0" cy="270.5" r="1.45"/><circle cx="379.4" cy="254.4" r="1.45"/><circle cx="382.2" cy="257.2" r="1.45"/><circle cx="383.6" cy="256.9" r="1.45"/><circle cx="384.1" cy="257.5" r="1.45"/><circle cx="384.9" cy="258.3" r="1.45"/><circle cx="384.3" cy="267.7" r="1.45"/><circle cx="387.7" cy="264.9" r="1.45"/><circle cx="388.5" cy="261.1" r="1.45"/><circle cx="390.2" cy="260.8" r="1.45"/><circle cx="391.3" cy="255.9" r="1.45"/><circle cx="380.8" cy="255.2" r="1.45"/><circle cx="371.7" cy="269.8" r="1.45"/><circle cx="367.5" cy="271.5" r="1.45"/><circle cx="333.7" cy="281.8" r="1.45"/><circle cx="333.9" cy="284.2" r="1.45"/><circle cx="341.1" cy="284.5" r="1.45"/><circle cx="347.5" cy="284.3" r="1.45"/><circle cx="343.8" cy="276.5" r="1.45"/><circle cx="347.5" cy="274.6" r="1.45"/><circle cx="361.2" cy="263.6" r="1.45"/><circle cx="368.1" cy="270.2" r="1.45"/><circle cx="368.3" cy="265.4" r="1.45"/><circle cx="369.5" cy="260.5" r="1.45"/><circle cx="370.6" cy="261.7" r="1.45"/><circle cx="372.0" cy="262.6" r="1.45"/><circle cx="374.5" cy="263.3" r="1.45"/><circle cx="376.9" cy="267.0" r="1.45"/><circle cx="377.1" cy="260.5" r="1.45"/><circle cx="376.2" cy="264.4" r="1.45"/><circle cx="385.1" cy="264.9" r="1.45"/><circle cx="386.1" cy="263.3" r="1.45"/><circle cx="384.6" cy="260.2" r="1.45"/><circle cx="388.6" cy="257.9" r="1.45"/><circle cx="391.6" cy="251.8" r="1.45"/><circle cx="392.6" cy="251.7" r="1.45"/><circle cx="396.5" cy="260.6" r="1.45"/><circle cx="401.5" cy="248.0" r="1.45"/><circle cx="405.3" cy="252.0" r="1.45"/><circle cx="405.3" cy="244.5" r="1.45"/><circle cx="409.3" cy="256.8" r="1.45"/><circle cx="409.6" cy="240.9" r="1.45"/><circle cx="412.1" cy="236.0" r="1.45"/><circle cx="414.0" cy="251.2" r="1.45"/><circle cx="416.6" cy="252.0" r="1.45"/><circle cx="417.2" cy="247.0" r="1.45"/><circle cx="419.1" cy="239.4" r="1.45"/><circle cx="420.2" cy="242.0" r="1.45"/><circle cx="425.5" cy="231.5" r="1.45"/><circle cx="427.3" cy="236.0" r="1.45"/><circle cx="432.5" cy="230.4" r="1.45"/><circle cx="435.7" cy="231.9" r="1.45"/><circle cx="441.2" cy="230.1" r="1.45"/><circle cx="441.8" cy="225.6" r="1.45"/><circle cx="442.3" cy="235.1" r="1.45"/><circle cx="446.0" cy="223.4" r="1.45"/><circle cx="447.1" cy="224.6" r="1.45"/><circle cx="447.1" cy="233.0" r="1.45"/><circle cx="450.8" cy="229.8" r="1.45"/><circle cx="452.1" cy="227.7" r="1.45"/><circle cx="452.9" cy="228.2" r="1.45"/><circle cx="461.2" cy="218.1" r="1.45"/><circle cx="462.7" cy="222.1" r="1.45"/><circle cx="464.8" cy="226.7" r="1.45"/><circle cx="466.6" cy="226.3" r="1.45"/><circle cx="468.2" cy="222.4" r="1.45"/><circle cx="475.6" cy="213.2" r="1.45"/><circle cx="477.2" cy="213.9" r="1.45"/><circle cx="477.1" cy="203.4" r="1.45"/><circle cx="477.4" cy="204.9" r="1.45"/><circle cx="481.0" cy="208.3" r="1.45"/><circle cx="483.8" cy="211.3" r="1.45"/><circle cx="484.9" cy="217.4" r="1.45"/><circle cx="491.7" cy="202.0" r="1.45"/><circle cx="492.8" cy="203.8" r="1.45"/><circle cx="493.3" cy="207.5" r="1.45"/><circle cx="496.2" cy="203.5" r="1.45"/><circle cx="499.6" cy="204.1" r="1.45"/><circle cx="503.4" cy="203.8" r="1.45"/><circle cx="502.0" cy="197.4" r="1.45"/><circle cx="506.7" cy="198.2" r="1.45"/><circle cx="508.5" cy="200.9" r="1.45"/><circle cx="510.7" cy="196.1" r="1.45"/><circle cx="545.1" cy="202.4" r="1.45"/><circle cx="324.7" cy="280.9" r="1.45"/><circle cx="334.4" cy="289.7" r="1.45"/><circle cx="339.3" cy="286.9" r="1.45"/><circle cx="338.8" cy="278.8" r="1.45"/><circle cx="347.0" cy="284.2" r="1.45"/><circle cx="347.3" cy="281.1" r="1.45"/><circle cx="352.4" cy="269.9" r="1.45"/><circle cx="356.8" cy="284.8" r="1.45"/><circle cx="357.7" cy="271.9" r="1.45"/><circle cx="358.2" cy="265.2" r="1.45"/><circle cx="359.2" cy="279.2" r="1.45"/><circle cx="363.9" cy="275.3" r="1.45"/><circle cx="367.6" cy="261.0" r="1.45"/><circle cx="370.8" cy="272.8" r="1.45"/><circle cx="393.0" cy="251.9" r="1.45"/><circle cx="399.2" cy="260.6" r="1.45"/><circle cx="403.4" cy="247.3" r="1.45"/><circle cx="405.2" cy="245.2" r="1.45"/><circle cx="406.7" cy="248.8" r="1.45"/><circle cx="409.1" cy="247.3" r="1.45"/><circle cx="411.0" cy="245.2" r="1.45"/><circle cx="415.6" cy="247.7" r="1.45"/><circle cx="416.7" cy="242.8" r="1.45"/><circle cx="418.3" cy="246.2" r="1.45"/><circle cx="417.2" cy="252.3" r="1.45"/><circle cx="423.0" cy="251.4" r="1.45"/><circle cx="424.1" cy="235.5" r="1.45"/><circle cx="427.5" cy="235.5" r="1.45"/><circle cx="427.7" cy="239.4" r="1.45"/><circle cx="429.3" cy="241.2" r="1.45"/><circle cx="431.2" cy="238.6" r="1.45"/><circle cx="430.1" cy="227.3" r="1.45"/><circle cx="432.2" cy="227.3" r="1.45"/><circle cx="434.3" cy="230.6" r="1.45"/><circle cx="436.9" cy="227.3" r="1.45"/><circle cx="444.3" cy="235.0" r="1.45"/><circle cx="446.5" cy="235.5" r="1.45"/><circle cx="445.8" cy="230.0" r="1.45"/><circle cx="447.4" cy="229.0" r="1.45"/><circle cx="447.4" cy="220.3" r="1.45"/><circle cx="448.4" cy="222.1" r="1.45"/><circle cx="452.6" cy="225.0" r="1.45"/><circle cx="453.2" cy="227.3" r="1.45"/><circle cx="457.4" cy="228.4" r="1.45"/><circle cx="458.1" cy="221.4" r="1.45"/><circle cx="460.5" cy="224.8" r="1.45"/><circle cx="460.5" cy="218.0" r="1.45"/><circle cx="465.2" cy="220.6" r="1.45"/><circle cx="467.1" cy="215.9" r="1.45"/><circle cx="467.8" cy="211.1" r="1.45"/><circle cx="468.4" cy="225.6" r="1.45"/><circle cx="471.0" cy="225.6" r="1.45"/><circle cx="472.5" cy="212.2" r="1.45"/><circle cx="476.2" cy="209.2" r="1.45"/><circle cx="475.7" cy="209.5" r="1.45"/><circle cx="480.5" cy="203.5" r="1.45"/><circle cx="482.6" cy="198.0" r="1.45"/><circle cx="484.9" cy="197.5" r="1.45"/><circle cx="488.9" cy="213.0" r="1.45"/><circle cx="493.3" cy="206.7" r="1.45"/><circle cx="494.9" cy="203.5" r="1.45"/><circle cx="496.4" cy="199.6" r="1.45"/><circle cx="498.3" cy="207.2" r="1.45"/><circle cx="505.9" cy="198.0" r="1.45"/><circle cx="515.4" cy="201.5" r="1.45"/><circle cx="518.5" cy="200.6" r="1.45"/><circle cx="536.9" cy="197.2" r="1.45"/><circle cx="425.2" cy="227.8" r="1.45"/><circle cx="447.0" cy="242.3" r="1.45"/></g>
<line x1="321.5" y1="294.5" x2="545.5" y2="176.5" stroke="#c0c0c0" stroke-width="0.8"/>
<line x1="321.5" y1="290.9" x2="545.5" y2="179.2" stroke="#444444" stroke-width="1.1"/>
<rect x="321.5" y="176.5" width="224.0" height="118.0" fill="none" stroke="#bdbdbd" stroke-width="1"/>
<path d="M358.5 294.5v-2.2M358.5 176.5v2.2M404.5 294.5v-2.2M404.5 176.5v2.2M451.5 294.5v-2.2M451.5 176.5v2.2M497.5 294.5v-2.2M497.5 176.5v2.2M543.5 294.5v-2.2M543.5 176.5v2.2M321.5 274.5h2.2M545.5 274.5h-2.2M321.5 250.5h2.2M545.5 250.5h-2.2M321.5 226.5h2.2M545.5 226.5h-2.2M321.5 201.5h2.2M545.5 201.5h-2.2M321.5 177.5h2.2M545.5 177.5h-2.2" stroke="#d0d0d0" stroke-width="1" fill="none"/>
<g font-size="7.10" fill="#333" stroke="#333" stroke-width="0.12"><text transform="translate(358.72 304.00) scale(1 1.100)" text-anchor="middle">6.5</text><text transform="translate(404.94 304.00) scale(1 1.100)" text-anchor="middle">7</text><text transform="translate(451.15 304.00) scale(1 1.100)" text-anchor="middle">7.5</text><text transform="translate(497.37 304.00) scale(1 1.100)" text-anchor="middle">8</text><text transform="translate(543.59 304.00) scale(1 1.100)" text-anchor="middle">8.5</text><text transform="translate(318.90 277.59) scale(1 1.100)" text-anchor="end">6.5</text><text transform="translate(318.90 253.25) scale(1 1.100)" text-anchor="end">7</text><text transform="translate(318.90 228.90) scale(1 1.100)" text-anchor="end">7.5</text><text transform="translate(318.90 204.55) scale(1 1.100)" text-anchor="end">8</text><text transform="translate(318.90 180.21) scale(1 1.100)" text-anchor="end">8.5</text></g>
<text x="322.3" y="174.7" font-size="7.2" fill="#333" stroke="#333" stroke-width="0.12"><tspan fill="#777" stroke="none">&#215;</tspan><tspan dx="0.5">10</tspan><tspan font-size="5" dy="-3.0">4</tspan></text>
<text x="545.5" y="315.1" font-size="7.2" fill="#333" stroke="#333" stroke-width="0.12" text-anchor="end"><tspan fill="#777" stroke="none">&#215;</tspan><tspan dx="0.5">10</tspan><tspan font-size="5" dy="-3.2">4</tspan></text>
<text transform="translate(433.5 174.4) scale(1 1.04)" font-size="7.7" font-weight="bold" fill="#000" stroke="#000" stroke-width="0.35" text-anchor="middle">Total: R=0.9757</text>
<text x="433.5" y="313.3" font-size="7.85" font-weight="bold" fill="#000" stroke="#000" stroke-width="0.35" text-anchor="middle">Target</text>
<g font-weight="bold" fill="#111" font-size="7.50" stroke="#000" stroke-width="0.15">
<text transform="translate(306.4 291.8) rotate(-90)">Output</text>
<text transform="translate(307.5 260.3) rotate(-90)" text-anchor="middle" font-weight="normal" stroke="none" fill="#8a8a8a" font-size="9.00">&#8776;</text>
<text transform="translate(306.4 252.6) rotate(-90)">0.95<tspan font-size="6.75">*</tspan><tspan>Target</tspan> + 3.7<tspan font-size="6.75">*</tspan><tspan>10</tspan><tspan font-size="3.52" dy="-2.70" dx="0.7">3</tspan></text>
</g>
<rect x="325.5" y="180.5" width="35.0" height="25.0" fill="#fff" stroke="#c0c0c0" stroke-width="1"/>
<circle cx="333.7" cy="185.4" r="1.35" fill="none" stroke="#555" stroke-width="0.7"/>
<line x1="327.0" y1="193.4" x2="340.7" y2="193.4" stroke="#444444" stroke-width="1.5"/>
<line x1="327.0" y1="201.4" x2="340.7" y2="201.4" stroke="#c8c8c8" stroke-width="0.8"/>
<g font-size="6.3" fill="#000" stroke="#000" stroke-width="0.12">
<text x="341.7" y="187.7">Data</text>
<text x="341.7" y="195.7">Fitting</text>
<text x="341.7" y="203.7">Y = T</text>
</g>
</g></svg></div></body></html>
